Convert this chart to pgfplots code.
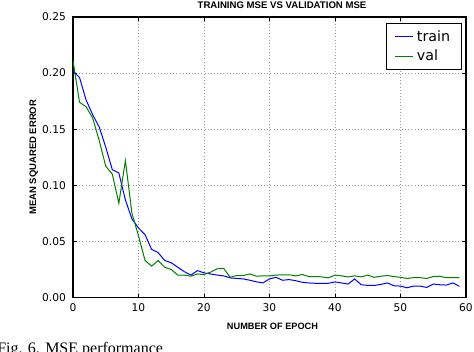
\documentclass[border=0pt]{standalone}
\usepackage{fontspec}
\setmainfont{DejaVu Sans}
\newfontfamily\labelfont{Liberation Sans}
\newfontfamily\capfont{Liberation Serif}
\usepackage{pgfplots}
\pgfplotsset{compat=1.18}
\usepackage{pgfplotstable}
\usetikzlibrary{calc}

\pgfplotstableread{
x y
0 0.202
1 0.196
2 0.176
3 0.163
4 0.152
5 0.134
6 0.114
7 0.111
8 0.087
9 0.070
10 0.062
11 0.056
12 0.043
13 0.040
14 0.033
15 0.031
16 0.027
17 0.023
18 0.020
19 0.024
20 0.022
21 0.021
22 0.020
23 0.0193
24 0.0175
25 0.017
26 0.0166
27 0.0154
28 0.014
29 0.013
30 0.0166
31 0.018
32 0.0154
33 0.016
34 0.015
35 0.0136
36 0.013
37 0.0127
38 0.0125
39 0.0127
40 0.0139
41 0.013
42 0.012
43 0.0166
44 0.0114
45 0.0108
46 0.0108
47 0.0117
48 0.013
49 0.0105
50 0.0102
51 0.0087
52 0.0102
53 0.0102
54 0.009
55 0.012
56 0.0114
57 0.0111
58 0.013
59 0.010
}\traindata

\pgfplotstableread{
x y
0 0.211
1 0.174
2 0.170
3 0.160
4 0.140
5 0.117
6 0.110
7 0.084
8 0.122
9 0.075
10 0.055
11 0.033
12 0.028
13 0.033
14 0.027
15 0.025
16 0.020
17 0.020
18 0.019
19 0.021
20 0.0205
21 0.0226
22 0.0256
23 0.026
24 0.018
25 0.0196
26 0.0196
27 0.021
28 0.019
29 0.0193
30 0.0193
31 0.020
32 0.0203
33 0.0203
34 0.0193
35 0.0205
36 0.0187
37 0.0187
38 0.0184
39 0.0175
40 0.020
41 0.0193
42 0.0184
43 0.0193
44 0.0184
45 0.020
46 0.018
47 0.019
48 0.0196
49 0.0187
50 0.018
51 0.017
52 0.0177
53 0.0177
54 0.017
55 0.0187
56 0.019
57 0.0177
58 0.0177
59 0.0178
}\valdata

\definecolor{mplblue}{rgb}{0,0,1}
\definecolor{mplgreen}{rgb}{0,0.5,0}

\begin{document}
\begin{tikzpicture}
\begin{axis}[
  name=ax,
  at={(0,0)}, anchor=south west,
  scale only axis,
  width=294.75pt, height=210.4pt,
  xmin=0, xmax=60, ymin=0, ymax=0.25,
  xtick={0,10,...,60},
  ytick={0,0.05,0.10,0.15,0.20,0.25},
  yticklabel style={/pgf/number format/fixed, /pgf/number format/fixed zerofill, /pgf/number format/precision=2, xshift=-1.8pt},
  xticklabel style={yshift=-1pt},
  /pgf/number format/assume math mode=true,
  tick label style={font=\fontsize{8}{9.6}\selectfont},
  scaled y ticks=false,
  tick align=inside,
  major tick length=3pt,
  tick style={black, line width=0.6pt},
  axis line style={black, line width=0.8pt},
  grid=major,
  major grid style={gray!80, line width=0.5pt, dash pattern=on 0.75pt off 1.6pt},
  xlabel={NUMBER OF EPOCH},
  xlabel style={at={(axis description cs:0.5076,-0.1123)}, anchor=base, font=\labelfont\bfseries\fontsize{6.9}{8}\selectfont, inner sep=0pt},
  ylabel={MEAN SQUARED ERROR},
  ylabel style={at={(axis description cs:-0.0941,0.5)}, anchor=base, font=\labelfont\bfseries\fontsize{7.1}{8}\selectfont, inner sep=0pt},
  legend style={at={(axis description cs:0.9898,0.9786)}, anchor=north east, draw=black, line width=0.8pt,
    font=\fontsize{10.7}{12}\selectfont, inner xsep=6pt, inner ysep=2.5pt, row sep=0pt,
    nodes={inner sep=2.5pt}},
  legend cell align=left,
  legend image code/.code={\draw[#1, line width=0.75pt] (0pt,0pt) -- (13.5pt,0pt);},
  clip=true,
]
\addplot[mplblue, line width=0.75pt] table[x=x, y=y] {\traindata};
\addlegendentry{train}
\addplot[mplgreen, line width=0.75pt] table[x=x, y=y] {\valdata};
\addlegendentry{val}
\end{axis}
\node[anchor=base, inner sep=0pt, font=\labelfont\bfseries\fontsize{7.2}{8}\selectfont] at ($(ax.north west)+(156.75pt,6pt)$) {TRAINING MSE VS VALIDATION MSE};
\node[anchor=base west, inner sep=0pt, font=\capfont\fontsize{12}{14}\selectfont] at ($(ax.south west)+(-57pt,-41.6pt)$) {Fig. 6. MSE performance};
\pgfresetboundingbox
\path[use as bounding box] ($(ax.south west)+(-54.75pt,-40.125pt)$) rectangle ($(ax.north east)+(6pt,12.75pt)$);
\end{tikzpicture}
\end{document}
